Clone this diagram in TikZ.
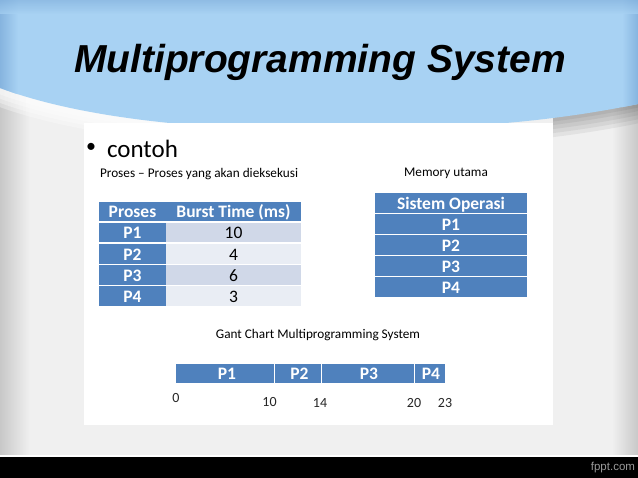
\documentclass[tikz,border=0pt]{standalone}
\usepackage{fontspec}
\setmainfont{Carlito}
\newfontfamily\titlefont{Liberation Sans}
\definecolor{headblue}{HTML}{A8D2F3}
\definecolor{headedge}{HTML}{86B4DF}
\definecolor{tabblue}{HTML}{4F81BD}
\definecolor{rowdark}{HTML}{D0D8E8}
\definecolor{rowlight}{HTML}{E9EDF4}
\definecolor{pagegray}{HTML}{F0F0F0}
\definecolor{sidegray}{HTML}{C8C8C8}
\newcommand{\bannercurve}{(638,104) .. controls (560,120) and (470,130) .. (319,130) .. controls (200,130) and (80,118) .. (0,88)}
\tikzset{
  x=1pt,y=-1pt,
  blank/.style={draw=none,inner sep=0pt,outer sep=0pt},
  cellbase/.style={blank,font=\fontsize{17.5}{17.5}\selectfont,minimum height=19.6pt,text height=12.5pt,text depth=0pt},
  headcell/.style={cellbase,fill=tabblue,text=white,font=\fontsize{17.5}{17.5}\selectfont\bfseries},
  darkcell/.style={cellbase,fill=rowdark,text=black},
  lightcell/.style={cellbase,fill=rowlight,text=black},
  note/.style={blank,font=\fontsize{13.25}{13.25}\selectfont,text=black},
  tick/.style={blank,font=\fontsize{14}{14}\selectfont,text=black!85},
}
\begin{document}
\begin{tikzpicture}
\useasboundingbox (0,0) rectangle (638,478);
% page
\fill[pagegray] (0,0) rectangle (638,478);
\shade[left color=sidegray,right color=pagegray] (0,0) rectangle (30,457);
\shade[left color=pagegray,right color=sidegray] (612,0) rectangle (638,457);
% highlight under the banner, left
\begin{scope}
\clip (0,0) rectangle (300,200);
\foreach \w in {36,28,20,12}{\draw[white,opacity=.3,line width=\w pt] \bannercurve;}
\end{scope}
% shadow under the banner, right
\begin{scope}
\clip (553,0) rectangle (638,200);
\foreach \w in {38,30,22,14,7}{\draw[black,opacity=.055,line width=\w pt] \bannercurve;}
\end{scope}
% banner
\begin{scope}
\clip (0,0) -- (638,0) -- \bannercurve -- cycle;
\fill[headblue] (0,0) rectangle (638,140);
\shade[left color=headedge,right color=headblue] (0,0) rectangle (18,140);
\shade[left color=headblue,right color=headedge] (622,0) rectangle (638,140);
\shade[top color=headedge,bottom color=headblue,opacity=.7] (0,0) rectangle (638,14);
\end{scope}
% bottom band
\fill[white] (0,455.5) rectangle (638,457);
\fill[black] (0,457) rectangle (638,478);
% panel
\fill[white] (84,123) rectangle (553,425);
% title
\node[blank,font=\titlefont\fontsize{39}{39}\selectfont\bfseries\itshape] (title) at (320,62) {Multiprogramming System};
% bullet
\node[blank,font=\fontsize{20}{20}\selectfont] (bullet) at (91,148) {•};
\node[blank,font=\fontsize{25}{25}\selectfont,anchor=west] (contoh) at (107,149) {contoh};
\node[note,anchor=west] (sub) at (100,174.5) {Proses – Proses yang akan dieksekusi};
\node[note] (mem) at (446,173.5) {Memory utama};
% burst table
\node[headcell,minimum width=66.5pt] (h1) at (132.5,211.5) {Proses};
\node[headcell,minimum width=134.5pt] (h2) at (233.5,211.5) {Burst Time (ms)};
\node[headcell,minimum width=66.5pt] (p1) at (132.5,232.7) {P1};
\node[darkcell,minimum width=134.5pt] (b1) at (233.5,232.7) {10};
\node[headcell,minimum width=66.5pt] (p2) at (132.5,254) {P2};
\node[lightcell,minimum width=134.5pt] (b2) at (233.5,254) {4};
\node[headcell,minimum width=66.5pt] (p3) at (132.5,275) {P3};
\node[darkcell,minimum width=134.5pt] (b3) at (233.5,275) {6};
\node[headcell,minimum width=66.5pt] (p4) at (132.5,296) {P4};
\node[lightcell,minimum width=134.5pt] (b4) at (233.5,296) {3};
% memory table
\node[headcell,minimum width=152pt] (m0) at (451,202.8) {Sistem Operasi};
\node[headcell,minimum width=152pt] (m1) at (451,224) {P1};
\node[headcell,minimum width=152pt] (m2) at (451,245) {P2};
\node[headcell,minimum width=152pt] (m3) at (451,266) {P3};
\node[headcell,minimum width=152pt] (m4) at (451,287) {P4};
% gantt
\node[note] (gant) at (318,335.5) {Gant Chart Multiprogramming System};
\node[headcell,minimum width=98pt] (g1) at (225,373.5) {\hspace*{4pt}P1};
\node[headcell,minimum width=45.6pt] (g2) at (298,373.5) {\hspace*{3pt}P2};
\node[headcell,minimum width=92pt] (g3) at (368,373.5) {\hspace*{2pt}P3};
\node[headcell,minimum width=30.4pt] (g4) at (430,373.5) {\hspace*{2pt}P4};
\node[tick] (t0) at (176,398) {0};
\node[tick] (t10) at (269.5,402) {10};
\node[tick] (t14) at (320,403) {14};
\node[tick] (t20) at (414,403) {20};
\node[tick] (t23) at (445,403.5) {23};
% footer mark
\node[blank,font=\titlefont\fontsize{11.5}{11.5}\selectfont,text=black!40!white,anchor=east] (fppt) at (635,468) {fppt.com};
\end{tikzpicture}
\end{document}
